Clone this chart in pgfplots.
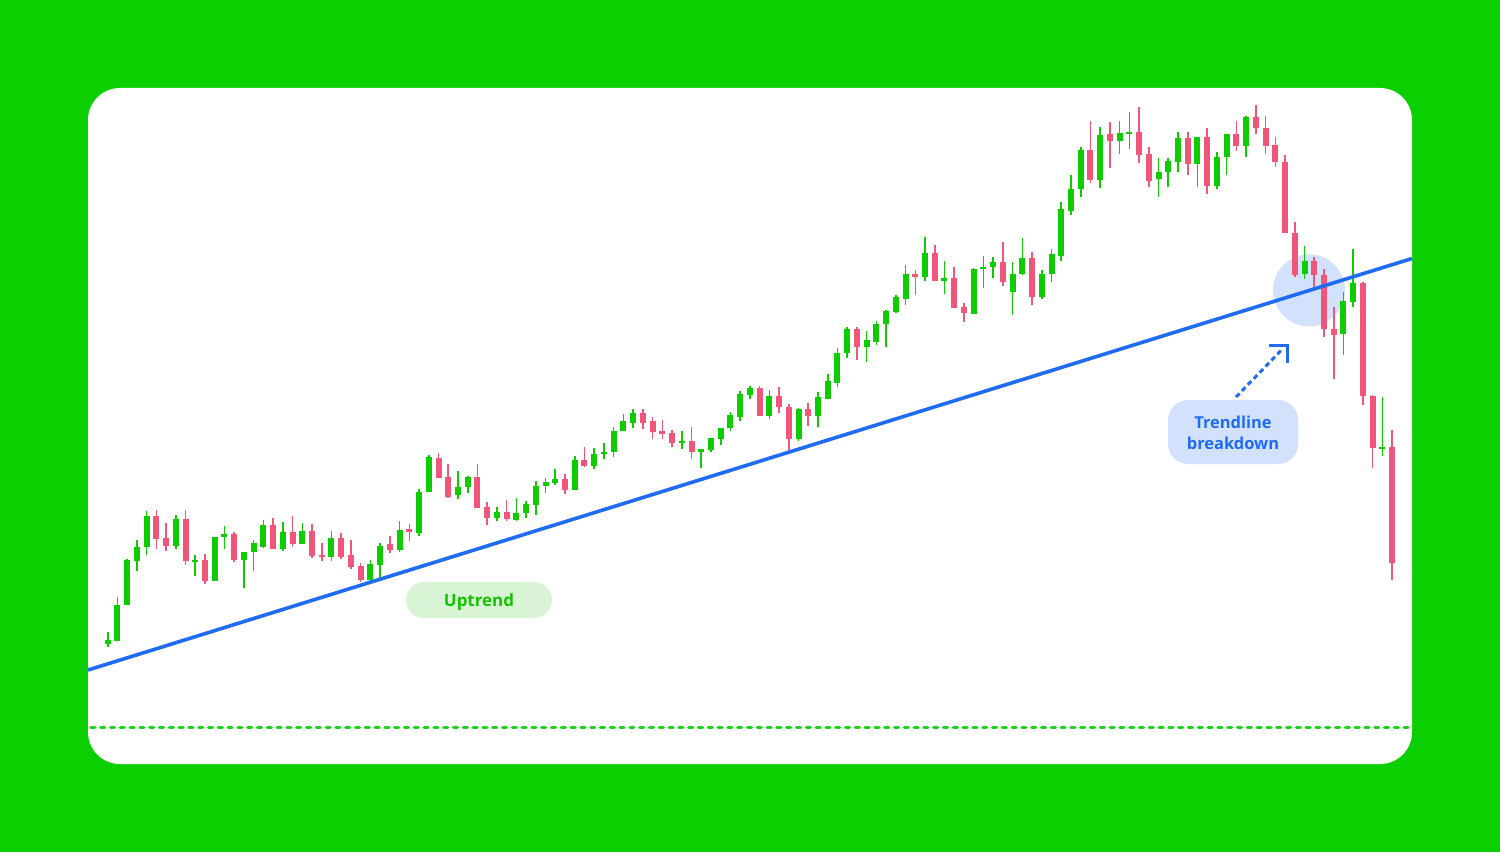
\documentclass[border=0pt]{standalone}
\usepackage{pgfplots}
\pgfplotsset{compat=1.18}
\usepackage{pgfplotstable}
\usepackage{fontspec}
\setmainfont{Open Sans}
\definecolor{bg}{RGB}{11,207,0}
\definecolor{cgreen}{RGB}{14,204,0}
\definecolor{cred}{RGB}{240,86,122}
\definecolor{cblue}{RGB}{31,107,242}
\definecolor{lblue}{RGB}{211,226,252}
\definecolor{lgreen}{RGB}{217,244,213}
\definecolor{tgreen}{RGB}{18,196,0}
\definecolor{dgreen}{RGB}{26,211,26}

\pgfplotstableread{
i wt wb bt bb
0 631.7 646.7 640 644
1 596.7 640.7 605.3 640.7
2 559.3 605.3 560 605.3
3 540.3 570.7 546.7 561.3
4 511 554.7 516 547
7 514.7 548.7 518.7 545.7
9 555 575.7 559.5 561.5
11 537 581.3 537 581.3
12 525.7 549 534.3 537.3
14 551.7 587.7 551.7 559.7
15 540.3 571.3 543 552
16 519.7 547.7 524.7 547
18 522 551 532.3 548.7
20 523.3 543.7 531 543.7
23 530.7 560.7 538.3 557
27 560 582.7 564 580
28 543.3 577.7 545.7 564.7
30 521 552.3 530 549.7
32 489.3 536 491.7 533.3
33 454.7 492.3 457.3 492.3
36 471.3 498.7 487 495
37 476 492.7 477.3 487.3
40 506.7 520.7 512.3 518.3
42 498.3 520.7 512.7 520
43 500.7 518.3 504.3 513
44 481.3 514.7 486 505.3
45 478.3 493.3 482 486.3
46 469.3 485 479 482.7
48 456 490 460 490
50 448.3 469.3 454.3 465.7
51 443.3 459.3 451.7 454.3
52 427.3 457.3 431 452.3
53 414 431.3 421 431.3
54 409 427.7 412.7 423
59 431 449 440.5 442.5
61 449.3 468.3 449.3 452
62 438.3 451.7 438.3 450
63 428.3 445 428.3 439
64 411.7 430.7 415 428.3
65 391 420.7 394.3 416.7
66 385.7 398.7 388.3 395.3
68 390 419.3 396 415.7
71 408.3 440.7 409.3 439
73 392 426.7 396.7 415.7
74 374 399 381 399
75 348.3 387.3 353.3 383.3
76 326.7 357.7 329 353.3
78 331 362.3 340 347.3
79 321 345 324.3 341.7
80 310 347.3 310.7 324.3
81 295 313.3 297.3 312.3
82 265 305 274 299
84 237.3 280.7 253.3 276.7
86 260.7 294 277.7 280.7
89 268.3 314 269.3 314
90 255.7 288.3 266.7 269.3
91 257.3 278.3 262 267
93 262.3 315 274 291.7
94 238.3 275 258.3 274.3
96 270 299 274 296.7
97 249.3 281.7 254.3 274.3
98 202.3 261 209.3 256
99 175 215 189 211
100 146.7 196.7 150 189.3
102 126.7 188.3 135 180
104 120.7 154 132.7 140.7
105 112.3 149.3 131.5 134
108 158.3 196.7 171.7 179.3
109 158.3 186.7 160.7 172.3
110 131.7 172.3 137.7 162.3
112 136.7 186.7 136.7 163.5
114 152.3 189.3 157.3 185.7
115 134.3 175 134.3 157.3
117 116 156.7 117.3 145.7
123 246 279.3 260.7 274.3
127 292.3 355 301 334.3
128 249.3 306.7 282.7 302.3
131 397.3 456 446.7 449
}\greendata

\pgfplotstableread{
i wt wb bt bb
5 510 548.7 516 538.7
6 523.3 551 538 546
8 510 565.3 518.7 560.7
10 553.7 584 560.3 581.3
13 532 562.3 534.3 559.7
17 518.3 548.7 524.7 548.7
19 516 546.7 532.3 543.7
21 524.3 558.3 531 555.7
22 543 560.7 555 557.3
24 533.3 559.3 538.3 556.7
25 540 569.3 555.3 567.3
26 563.3 582.3 566 580
29 535.7 553.3 544.3 549.7
31 524.3 541 529.3 532.3
34 453 477.7 457.7 477.7
35 464 497.7 477.3 496.7
38 464 508.3 477.3 507.7
39 501.7 525.3 506.7 517.7
41 500.3 520.7 512.3 519.3
47 474.3 494.3 479 490
49 446.7 467.3 460 466
55 409 429.3 412.7 423
56 416.7 439 421 431.7
57 420 439 430.7 434
58 430 446.7 433 442.7
60 427.3 458.7 440.7 451.7
67 385.7 415.7 388.3 415.7
69 386.7 413.3 396 407.3
70 404 453.3 406.7 439
72 402.7 425.7 409.3 415.7
77 326.7 360 329 347.3
83 270 295 274 276.7
85 245 281 253.3 281
87 266.7 308.3 277.7 307.7
88 303.3 322.3 307.3 313.3
92 242.3 285.7 262 281.7
95 252.3 305 258.3 297.3
101 120.7 183.3 150 180
103 122.3 167.7 134 140.7
106 107.3 162.7 131.7 155
107 147.3 186.7 154.3 181
111 131.7 175 137.7 163.5
113 128.3 194.3 136.7 185.7
116 120.7 150.7 134.3 145.7
118 105 134.3 117.3 128.3
119 115.7 154 128.3 145.7
120 136.7 167.3 145 162.3
121 155 232.7 162.3 232.7
122 221.7 276.7 232.7 275
124 257.3 288.3 260.7 275
125 269.3 336.7 275 329.3
126 306.7 379.3 329 335
129 281.7 405 282.7 396
130 395 468.3 396 448.3
132 430 580 447.3 562.7
}\reddata

\begin{document}
\begin{tikzpicture}
\begin{axis}[
  width=1500bp, height=852bp, scale only axis,
  xmin=0, xmax=1500, ymin=0, ymax=852, y dir=reverse,
  axis lines=none, ticks=none, clip=false,
  candle/.style={draw=none, mark=none, forget plot, error bars/.cd, y dir=plus, y explicit, error mark=none},
]
\fill[bg] (axis cs:0,0) rectangle (axis cs:1500,852);
\fill[white, rounded corners=32bp] (axis cs:88,88) rectangle (axis cs:1412,764);
\draw[dgreen, line width=3.5bp, line cap=round, dash pattern=on 3.8bp off 6bp] (axis cs:91,727.5) -- (axis cs:1410,727.5);
\fill[lblue] (axis cs:1309,290.3) circle[radius=36bp];
% wicks
\addplot[candle, error bar style={line width=1.6bp, draw=cgreen, solid}]
  table[x expr=107.7+9.73*\thisrow{i}, y=wt, y error expr=\thisrow{wb}-\thisrow{wt}] {\greendata};
\addplot[candle, error bar style={line width=1.6bp, draw=cred, solid}]
  table[x expr=107.7+9.73*\thisrow{i}, y=wt, y error expr=\thisrow{wb}-\thisrow{wt}] {\reddata};
% bodies
\addplot[candle, error bar style={line width=6bp, draw=cgreen, solid}]
  table[x expr=107.7+9.73*\thisrow{i}, y=bt, y error expr=\thisrow{bb}-\thisrow{bt}] {\greendata};
\addplot[candle, error bar style={line width=6bp, draw=cred, solid}]
  table[x expr=107.7+9.73*\thisrow{i}, y=bt, y error expr=\thisrow{bb}-\thisrow{bt}] {\reddata};
% trendline
\addplot[cblue, line width=3.6bp, mark=none] coordinates {(88,670) (1412,258.5)};
% uptrend label
\fill[lgreen, rounded corners=18bp] (axis cs:406,582) rectangle (axis cs:552,618);
\node[anchor=base, text=tgreen, font=\fontsize{17}{19}\selectfont\bfseries] at (axis cs:479,606) {Uptrend};
% breakdown label
\fill[lblue, rounded corners=20bp] (axis cs:1168,400) rectangle (axis cs:1298,464);
\node[anchor=base, text=cblue, font=\fontsize{16.5}{19}\selectfont\bfseries] at (axis cs:1233,428.3) {Trendline};
\node[anchor=base, text=cblue, font=\fontsize{16.5}{19}\selectfont\bfseries] at (axis cs:1233,449.3) {breakdown};
% arrow
\draw[cblue, line width=3bp, dash pattern=on 5bp off 3.5bp] (axis cs:1236,397) -- (axis cs:1281,350.5);
\draw[cblue, line width=3bp, miter limit=4] (axis cs:1269,345.5) -- (axis cs:1287.5,345.5) -- (axis cs:1287.5,363);
\end{axis}
\end{tikzpicture}
\end{document}
